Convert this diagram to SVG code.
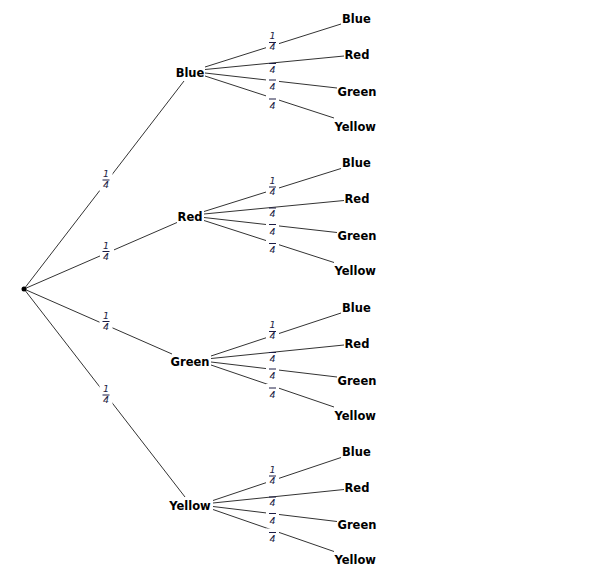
<svg xmlns="http://www.w3.org/2000/svg" width="590" height="574" viewBox="0 0 590 574">
<style>
.e{stroke:#333;stroke-width:1;fill:none}
.n{font-family:"DejaVu Sans",Verdana,sans-serif;font-weight:bold;font-size:11.5px;fill:#000}
.f{font-family:"DejaVu Sans",Verdana,sans-serif;font-style:italic;font-size:9.5px;fill:#1c1c44;text-anchor:middle}
.bar{stroke:#1c1c44;stroke-width:1}
.bg{fill:#fff}
</style>
<rect width="590" height="574" fill="#fff"/>
<g id="connectors">
  <line class="e" x1="24" y1="289" x2="184" y2="81"/>
  <line class="e" x1="24" y1="289" x2="177" y2="222.5"/>
  <line class="e" x1="24" y1="289" x2="172" y2="354"/>
  <line class="e" x1="24" y1="289" x2="185" y2="497"/>
  <g transform="translate(0,72)">
    <line class="e" x1="205" y1="-5" x2="341" y2="-48"/>
    <line class="e" x1="205" y1="-2.5" x2="344" y2="-16"/>
    <line class="e" x1="205" y1="1" x2="337" y2="16"/>
    <line class="e" x1="205" y1="4" x2="334" y2="46"/>
  </g>
  <g transform="translate(0,216.5)">
    <line class="e" x1="204" y1="-5" x2="341" y2="-48"/>
    <line class="e" x1="204" y1="-2.5" x2="344" y2="-16"/>
    <line class="e" x1="204" y1="1" x2="337" y2="16"/>
    <line class="e" x1="204" y1="4" x2="334" y2="46"/>
  </g>
  <g transform="translate(0,361)">
    <line class="e" x1="211" y1="-5" x2="341" y2="-48"/>
    <line class="e" x1="211" y1="-2.5" x2="344" y2="-16"/>
    <line class="e" x1="211" y1="1" x2="337" y2="16"/>
    <line class="e" x1="211" y1="4" x2="334" y2="46"/>
  </g>
  <g transform="translate(0,505.5)">
    <line class="e" x1="213" y1="-5" x2="341" y2="-48"/>
    <line class="e" x1="213" y1="-2.5" x2="344" y2="-16"/>
    <line class="e" x1="213" y1="1" x2="337" y2="16"/>
    <line class="e" x1="213" y1="4" x2="334" y2="46"/>
  </g>
</g>
<g id="edge-labels">
  <g id="lbl-root-blue">
    <rect class="bg" x="99.5" y="167" width="13" height="24"/>
    <text class="f" x="106" y="177">1</text>
    <line class="bar" x1="102.5" y1="180" x2="109.5" y2="180"/>
    <text class="f" x="106" y="188">4</text>
  </g>
  <g id="lbl-root-red">
    <rect class="bg" x="100" y="239" width="14" height="23"/>
    <text class="f" x="106" y="248.5">1</text>
    <line class="bar" x1="102.5" y1="251.5" x2="109.5" y2="251.5"/>
    <text class="f" x="106" y="259.5">4</text>
  </g>
  <g id="lbl-root-green">
    <rect class="bg" x="99.5" y="309" width="13" height="23"/>
    <text class="f" x="106" y="318.5">1</text>
    <line class="bar" x1="102.5" y1="321.5" x2="109.5" y2="321.5"/>
    <text class="f" x="106" y="329.5">4</text>
  </g>
  <g id="lbl-root-yellow">
    <rect class="bg" x="99.5" y="382" width="13" height="23"/>
    <text class="f" x="106" y="392">1</text>
    <line class="bar" x1="102.5" y1="395" x2="109.5" y2="395"/>
    <text class="f" x="106" y="403">4</text>
  </g>
  <g transform="translate(0,72)">
    <rect class="bg" x="266" y="-43" width="13" height="22"/>
    <text class="f" x="272.5" y="-33">1</text>
    <line class="bar" x1="269" y1="-29.5" x2="276" y2="-29.5"/>
    <text class="f" x="272.5" y="-22">4</text>
    <line class="bar" x1="269" y1="-8.5" x2="276" y2="-8.5"/>
    <text class="f" x="272.5" y="0.5">4</text>
    <rect class="bg" x="266" y="6" width="13" height="13.5"/>
    <line class="bar" x1="269" y1="8" x2="276" y2="8"/>
    <text class="f" x="272.5" y="18">4</text>
    <rect class="bg" x="266" y="23" width="13" height="15"/>
    <line class="bar" x1="269" y1="27" x2="276" y2="27"/>
    <text class="f" x="272.5" y="36.5">4</text>
  </g>
  <g transform="translate(0,216.5)">
    <rect class="bg" x="266" y="-43" width="13" height="22"/>
    <text class="f" x="272.5" y="-33">1</text>
    <line class="bar" x1="269" y1="-29.5" x2="276" y2="-29.5"/>
    <text class="f" x="272.5" y="-22">4</text>
    <line class="bar" x1="269" y1="-8.5" x2="276" y2="-8.5"/>
    <text class="f" x="272.5" y="0.5">4</text>
    <rect class="bg" x="266" y="6" width="13" height="13.5"/>
    <line class="bar" x1="269" y1="8" x2="276" y2="8"/>
    <text class="f" x="272.5" y="18">4</text>
    <rect class="bg" x="266" y="23" width="13" height="15"/>
    <line class="bar" x1="269" y1="27" x2="276" y2="27"/>
    <text class="f" x="272.5" y="36.5">4</text>
  </g>
  <g transform="translate(0,361)">
    <rect class="bg" x="266" y="-43" width="13" height="22"/>
    <text class="f" x="272.5" y="-33">1</text>
    <line class="bar" x1="269" y1="-29.5" x2="276" y2="-29.5"/>
    <text class="f" x="272.5" y="-22">4</text>
    <line class="bar" x1="269" y1="-8.5" x2="276" y2="-8.5"/>
    <text class="f" x="272.5" y="0.5">4</text>
    <rect class="bg" x="266" y="6" width="13" height="13.5"/>
    <line class="bar" x1="269" y1="8" x2="276" y2="8"/>
    <text class="f" x="272.5" y="18">4</text>
    <rect class="bg" x="266" y="23" width="13" height="15"/>
    <line class="bar" x1="269" y1="27" x2="276" y2="27"/>
    <text class="f" x="272.5" y="36.5">4</text>
  </g>
  <g transform="translate(0,505.5)">
    <rect class="bg" x="266" y="-43" width="13" height="22"/>
    <text class="f" x="272.5" y="-33">1</text>
    <line class="bar" x1="269" y1="-29.5" x2="276" y2="-29.5"/>
    <text class="f" x="272.5" y="-22">4</text>
    <line class="bar" x1="269" y1="-8.5" x2="276" y2="-8.5"/>
    <text class="f" x="272.5" y="0.5">4</text>
    <rect class="bg" x="266" y="6" width="13" height="13.5"/>
    <line class="bar" x1="269" y1="8" x2="276" y2="8"/>
    <text class="f" x="272.5" y="18">4</text>
    <rect class="bg" x="266" y="23" width="13" height="15"/>
    <line class="bar" x1="269" y1="27" x2="276" y2="27"/>
    <text class="f" x="272.5" y="36.5">4</text>
  </g>
</g>
<g id="node-root"><circle cx="24" cy="289" r="2.5" fill="#000"/></g>
<g id="node-blue"><text class="n" x="190" y="76.5" text-anchor="middle">Blue</text></g>
<g id="node-red"><text class="n" x="190" y="221" text-anchor="middle">Red</text></g>
<g id="node-green"><text class="n" x="190" y="365.5" text-anchor="middle">Green</text></g>
<g id="node-yellow"><text class="n" x="190" y="510" text-anchor="middle">Yellow</text></g>
<g id="leaves-blue" transform="translate(0,72)">
  <g id="node-blue-blue"><text class="n" x="342" y="-49.5">Blue</text></g>
  <g id="node-blue-red"><text class="n" x="344.5" y="-13.5">Red</text></g>
  <g id="node-blue-green"><text class="n" x="337.5" y="23.5">Green</text></g>
  <g id="node-blue-yellow"><text class="n" x="334.5" y="58.5">Yellow</text></g>
</g>
<g id="leaves-red" transform="translate(0,216.5)">
  <g id="node-red-blue"><text class="n" x="342" y="-49.5">Blue</text></g>
  <g id="node-red-red"><text class="n" x="344.5" y="-13.5">Red</text></g>
  <g id="node-red-green"><text class="n" x="337.5" y="23.5">Green</text></g>
  <g id="node-red-yellow"><text class="n" x="334.5" y="58.5">Yellow</text></g>
</g>
<g id="leaves-green" transform="translate(0,361)">
  <g id="node-green-blue"><text class="n" x="342" y="-49.5">Blue</text></g>
  <g id="node-green-red"><text class="n" x="344.5" y="-13.5">Red</text></g>
  <g id="node-green-green"><text class="n" x="337.5" y="23.5">Green</text></g>
  <g id="node-green-yellow"><text class="n" x="334.5" y="58.5">Yellow</text></g>
</g>
<g id="leaves-yellow" transform="translate(0,505.5)">
  <g id="node-yellow-blue"><text class="n" x="342" y="-49.5">Blue</text></g>
  <g id="node-yellow-red"><text class="n" x="344.5" y="-13.5">Red</text></g>
  <g id="node-yellow-green"><text class="n" x="337.5" y="23.5">Green</text></g>
  <g id="node-yellow-yellow"><text class="n" x="334.5" y="58.5">Yellow</text></g>
</g>
</svg>
